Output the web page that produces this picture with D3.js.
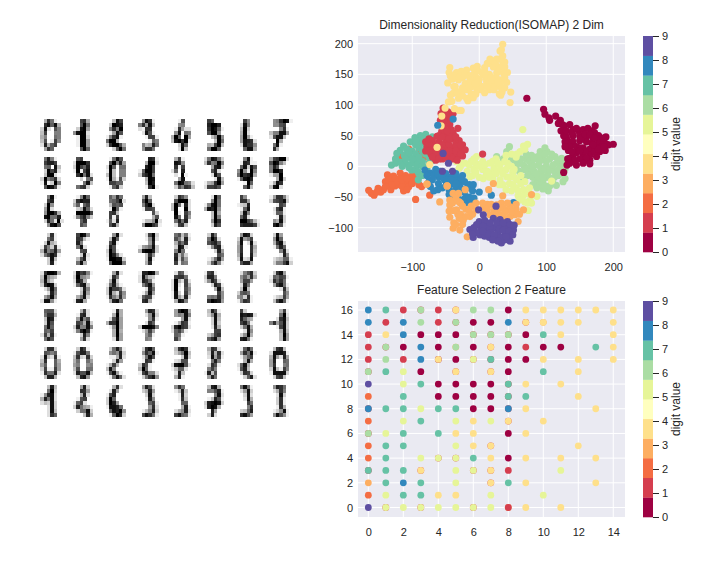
<!DOCTYPE html>
<html>
<head>
<meta charset="utf-8">
<script src="https://cdn.jsdelivr.net/npm/d3@7"></script>
<style>
  body { margin: 0; background: #fff; }
  text { font-family: "Liberation Sans", Arial, sans-serif; fill: #262626; }
</style>
</head>
<body>
<svg id="chart" width="710" height="569"></svg>
<script>
// 64 digit images, 8 rows of 8 values each, values 0..16 written base 17 (g = 16)
var digitImages = [
  "005d9100 00dfaf50 03f20b80 04c00880 05800980 04b01c70 02e5ac00 006da000",
  "000cd500 000bg900 003fg600 07fgg200 001gg300 001gg600 001gg600 000bga00",
  "0004fc00 003gfe00 008d8g00 0016fb00 018df100 09gg5000 03dggb50 0003bg90",
  "007fd100 08d6f400 021dd000 002fb100 0001cc10 00001a80 00845e90 007dd900",
  "0001b000 00078000 001d6220 007f0980 05ga0g60 04fgdg10 0003fa00 0002g400",
  "00ca0000 00egge00 00dgfa10 00bgg700 00047g70 00004g90 0054cg40 009gga00",
  "000c7000 002f8000 004g3000 005g2000 006g6100 006fed20 002fdd70 000aff50",
  "0078dgf1 0077bc00 00008d10 0488ff60 02bff400 000g5000 009f1000 00d50000",
  "009e8100 00ceec00 009a0f40 003gce20 004gg200 03g8ad20 01f13g80 00bgfb10",
  "00bc0000 02gggd00 03gcae00 01g1cf00 00dg9f20 000309b0 00009f40 009cd300",
  "0019fb00 00bg8e60 02ga0990 01g40880 04g40880 01g51b30 00ccaa00 001ad300",
  "0000ed10 0005gg20 000egc00 01aggc00 03ceg900 0005gf00 0004ge00 0001dg10",
  "005c1000 00fe7000 00d1c000 02a0e000 0020g100 0006f000 009gf982 003b8dc4",
  "029fe930 04d89g80 0006ef30 000be200 0002fb00 00002f40 0156dg60 02ccdb00",
  "0008f100 001ed110 00af3fb0 07g71g80 09gdeg50 01afge00 0001ga00 000af400",
  "05cdgg20 0bgf8400 08eb1000 08gge000 0166g000 0005g300 015fd000 04fg2000",
  "0008f100 000ce000 003g7000 006g2000 007ggd50 00fg99e0 003e92g2 0007fgb0",
  "0018fa00 03dfee00 05a0ac00 0035fa20 00ggggc0 018ce830 000ad000 000b9000",
  "00a7d900 009acf20 004bab00 001ga100 00cd4000 00c1c000 01a2e000 00be5000",
  "006e4000 00bga000 008eg200 001ccb00 00000b30 000005b0 001447g2 007ggdb1",
  "003db700 00bggg20 04g91e20 04g00g20 00g10c80 00f90d60 009e9e10 002cd400",
  "0002ga00 0008g900 018fg900 05feg700 0004g500 0004g800 0007gd00 0003eb00",
  "00c70000 00dd6000 0134e000 001af000 004f8000 00ae2000 00ggca41 00deeec2",
  "016dd820 03bcdf30 0001ca00 002ce100 001aa100 0001e300 0075f300 00egb100",
  "0003d100 0009c100 003f5300 01c83d10 05e8ae60 029cfd10 0003f400 0003e100",
  "00cgf800 00dc4100 00e80000 009f2000 000bc000 0003f200 004be100 009f5000",
  "0007f200 004fa000 00bf1000 01eb0000 03gb1000 02ge8200 01ggff30 00aggg80",
  "0002cg30 00017f20 00006e00 01679f30 05fgge30 0004d700 0004f100 0005d000",
  "009b4910 00b83e20 005c9d00 003fe200 008f9000 00d49300 00e3b600 00c19800",
  "003e9000 009gd200 00bdea00 0017de10 00003e60 00000b90 00149e60 003ae810",
  "007fe300 03f68c00 05f02f20 06d00d50 06d00d40 05e00e30 03f23f00 00bee600",
  "003f6000 007ga000 005df300 0019ea00 00008e20 00001e70 00245aa1 00388cf3",
  "02dggf50 04g75400 05f63000 03egf300 0026f900 0002e800 0069f600 02ff7100",
  "02fcd810 03g87500 02fd5000 01aef400 0003e800 0004f600 0059f300 01ef5000",
  "0006e200 001d9000 005f3000 019e5100 03fcca20 03f52c70 01d85d60 005ef900",
  "01eegf50 02f84300 02ed9100 008cf600 0002e900 0016f600 01acc100 00de5000",
  "002ba100 00cdd900 02g52c20 02g20c50 02g10b70 01f30c60 01f63e20 005fe800",
  "01cd1000 03ee8000 027ec200 0003ec10 00005f40 00000c70 00898d70 00dgfe60",
  "0028bd30 007a6d50 006cc600 002e9000 004g4000 03ab9000 0683d100 018dc100",
  "003df600 01a9cb10 02dad900 006df910 00002d40 00000b70 00134c60 004cfa10",
  "00abb200 009dd500 004fe100 003fb000 009fa000 00a9c000 02c5d100 009eb000",
  "0005c200 001de200 006f8b00 00ca5f30 03e88f80 018egd10 0003e800 0006d200",
  "0001e500 0005g500 002bf600 05ddg600 0017g600 0005g500 0005g600 0002f600",
  "0006ed20 00027f30 00007d10 0002da00 03gggf80 0026c600 0007a100 00087000",
  "006egf50 00687f80 00006f20 0015dc10 03egdc20 02ac8100 00a91000 00c70000",
  "004eb100 0037f500 0003f400 0003f300 0002e500 0000cc00 0036cd00 00adf600",
  "00c30000 00fefe20 00ea6500 00ce9100 0039f500 0002f700 0037g500 00ef9100",
  "00005c10 00009g20 0002df40 08d6bf30 0001cf30 00005f40 00004g60 00004f60",
  "003dd300 00ba8a00 02f42d10 04d00a50 06a00a60 03c11c60 01d99e20 004ee500",
  "003ec100 01bee900 04d32d30 05900960 06800780 04b00990 02ebbf40 004ef700",
  "0039e910 00797e30 00115e20 0003e600 015c5000 04f80000 01bf6100 0019fa20",
  "003dfa00 007daf10 0029fb00 001dc100 03db1000 05ga1000 01ce8820 0039df70",
  "004dfd10 00369g40 00003f30 0023bb00 03fggb20 014aa200 002e4000 005e1000",
  "005dc200 003e5d20 002f6c10 0009e800 002db100 008c8000 01e4b000 006e9000",
  "001ae900 006d9f10 0016ac00 0005f500 02af5000 01be4000 003dc300 0003ae20",
  "004de400 02fffe10 05f62e60 06e00a90 06d00890 03f41c80 01ffff30 003cd400",
  "0004e400 0009g300 017ef200 05e9f200 0243f300 0002f300 0002f400 0002da00",
  "0006e300 000dd600 0005e200 001bc000 01ac2000 03e96510 00399f30 00004e50",
  "0005d200 002e6000 01be0000 03ga0000 03ge6000 01ffe900 00afeg70 001age30",
  "006eb200 0035e600 0003f300 0001e700 0000ac10 00006d20 00148e30 00bfd910",
  "007d9000 0014e400 0001e300 0001d400 0000aa00 00005e10 00257e20 00cfa910",
  "004ef500 0088be10 00008f20 0014eb10 03efgf30 02egf500 000e6000 003e2000",
  "009f9100 0026f300 0003f200 0002f500 0000c900 00008d00 0034ae00 00dfb600",
  "007ed900 0025d800 0002f300 0003d100 0003d100 0001d500 00137f10 007fb710"
];

// isomap points per digit class
var iso0 = [[71,111],[96,93],[98,85],[104,79],[105,75],[114,82],[121,75],[118,70],[124,68],[127,66],[135,68],[173,66],[189,48],[126,50],[130,48],[200,36],[193,35],[188,26],[180,24],[175,16],[165,10],[158,10],[145,2],[135,13],[131,2],[126,-10],[133,26],[140,60],[148,58],[155,60],[162,62],[168,58],[172,55],[178,50],[180,44],[170,45],[160,48],[150,50],[140,50],[132,42],[128,40],[140,40],[150,42],[160,40],[168,38],[178,38],[186,40],[190,36],[135,32],[145,32],[155,30],[165,28],[175,30],[183,32],[145,22],[155,20],[165,18],[172,24],[150,12],[140,18],[160,14],[122,58],[130,58],[138,55],[145,62],[152,46],[158,52],[165,52],[172,46],[185,46],[128,32],[138,24],[150,30],[158,25],[170,35],[178,28],[186,32],[150,25],[142,10],[132,12],[135,5],[155,5],[165,4]];
var iso1 = [[-54,95],[-57,86],[-47,89],[-39,86],[-58,75],[-49,78],[-44,68],[-52,65],[-32,62],[-39,54],[-56,57],[-63,49],[-50,50],[-70,42],[-80,40],[-78,32],[-70,30],[-60,40],[-50,40],[-40,45],[-35,38],[-30,42],[-25,35],[-60,30],[-50,30],[-40,30],[-30,28],[-21,27],[-72,20],[-62,18],[-52,20],[-42,18],[-32,17],[-25,17],[-68,25],[-45,55],[-38,22],[-80,25],[-55,12],[-45,10],[-65,10],[-75,38],[-65,35],[-55,35],[-45,35],[-35,32],[-75,25],[-65,22],[-55,25],[-45,25],[-35,25],[-28,20],[-60,50],[-42,60],[-48,58],[-55,48],[-45,45],[-35,48],[-70,15],[-60,12],[-50,15],[-40,12],[-33,10],[-48,72],[-55,70],[-42,80],[-50,85],[-53,75],[-75,45],[-28,35]];
var iso2 = [[-165,-39],[-161,-44],[-157,-47],[-151,-36],[-147,-42],[-143,-38],[-136,-30],[-132,-38],[-128,-25],[-126,-32],[-137,-14],[-120,-30],[-118,-11],[-118,-20],[-110,-15],[-110,-28],[-113,-40],[-103,-25],[-100,-15],[-95,-54],[-95,-10],[-90,-30],[-86,-33],[-74,-47],[-118,16],[-115,8],[-105,28],[-90,22],[-85,15],[-80,15],[-128,-16],[-140,-25],[-135,-22],[-130,-30],[-125,-20],[-122,-26],[-115,-22],[-115,-33],[-108,-20],[-105,-33],[-100,-28],[-95,-22],[-92,-18],[-140,-33],[-153,-42],[-108,-38]];
var iso3 = [[-78,-29],[-48,-32],[-59,-58],[-44,-63],[-44,-55],[-39,-44],[-31,-44],[-21,-38],[-34,-71],[-44,-83],[-39,-101],[-29,-104],[-18,-115],[-24,-88],[-14,-82],[-4,-71],[6,-68],[14,-38],[21,-28],[35,-48],[26,-63],[41,-71],[58,-90],[53,-79],[46,-66],[66,-71],[78,-46],[33,-60],[16,-79],[31,-79],[46,-82],[-28,-60],[-20,-70],[-30,-85],[-38,-92],[-32,-78],[-12,-65],[12,-62],[22,-72],[38,-85],[55,-70],[-10,-78],[-40,-60],[-35,-52],[-30,-58],[-25,-65],[-38,-72],[-28,-78],[-20,-82],[-15,-72],[-5,-60],[5,-60],[12,-70],[18,-62],[28,-70],[35,-68],[42,-60],[48,-74],[38,-75],[25,-80],[55,-62],[60,-78],[-45,-73],[-35,-95],[-25,-95]];
var iso4 = [[-44,161],[-45,153],[-43,147],[-47,136],[-34,153],[-27,155],[-19,157],[-9,160],[-1,155],[8,161],[16,168],[26,162],[31,188],[-31,141],[-21,135],[-11,138],[-1,135],[11,138],[20,135],[31,141],[-36,130],[-29,122],[-17,125],[-4,127],[-39,119],[-43,116],[-31,111],[-19,111],[-9,112],[-46,105],[-41,106],[-17,107],[-37,94],[-30,91],[-27,91],[35,199],[33,190],[35,180],[35,171],[31,162],[38,162],[42,153],[21,162],[26,152],[36,152],[41,137],[33,138],[23,138],[16,141],[31,130],[21,130],[34,121],[32,116],[47,121],[46,104],[-25,145],[-15,148],[-5,145],[5,150],[15,150],[5,130],[15,125],[-8,150],[10,145],[25,145],[-12,130],[0,142],[20,172],[26,175],[-22,125],[-38,148],[-30,145],[-22,148],[-14,140],[-6,135],[-15,128],[2,125],[8,120],[12,130],[18,145],[28,155],[24,130],[38,145],[28,138],[8,155],[-3,163],[12,168],[-25,128],[-33,120],[-25,115],[-12,118],[-5,118],[22,125],[30,118],[38,128],[-38,130],[-40,142],[16,175],[24,168],[30,175],[38,170]];
var iso5 = [[65,60],[72,36],[66,33],[61,24],[56,20],[68,28],[-34,8],[-21,5],[-4,16],[-14,-17],[6,-20],[16,-11],[31,2],[31,-22],[31,-6],[41,-17],[48,0],[56,-22],[66,-38],[76,-55],[73,-72],[86,-49],[-28,0],[-12,8],[-18,-8],[-5,5],[-5,-10],[5,8],[5,-5],[15,5],[22,-3],[10,-15],[20,-20],[25,12],[38,8],[40,-5],[50,-10],[45,-28],[35,-30],[62,-15],[62,-28],[70,-45],[55,-35],[48,-40],[58,-48],[68,-58],[40,18],[108,-24],[-25,5],[-15,2],[-8,-5],[0,0],[8,2],[12,-8],[20,8],[28,5],[35,-12],[42,5],[52,-5],[45,-18],[52,-18],[25,-12],[15,-18],[0,-18],[-10,-15],[30,-30],[40,-38],[50,-30],[58,-40],[65,-48],[72,-60],[60,-55],[78,-60],[55,15],[48,20],[-8,12],[68,-25],[75,-35],[-30,-3]];
var iso6 = [[41,24],[26,16],[91,24],[101,24],[113,16],[123,13],[128,-4],[128,-20],[115,-31],[103,-40],[95,-37],[86,-25],[76,-11],[66,2],[53,10],[98,30],[45,32],[85,15],[95,12],[105,12],[115,5],[122,2],[112,-8],[100,0],[88,2],[78,5],[70,12],[82,-8],[92,-10],[102,-12],[118,-15],[108,-20],[95,-25],[105,-32],[88,-18],[60,5],[48,12],[36,12],[78,18],[75,-2],[55,0],[62,12],[70,20],[60,-8],[68,-5],[75,8],[82,12],[90,18],[98,20],[108,20],[118,10],[125,8],[72,-15],[80,-18],[85,-12],[92,-3],[98,-5],[105,-5],[110,2],[118,-5],[122,-12],[125,-25],[112,-18],[100,-18],[95,-18],[90,-30],[98,-32],[110,-28],[80,-30],[86,-35],[100,8],[90,8],[80,0],[65,-22]];
var iso7 = [[-88,50],[-80,52],[-96,47],[-103,40],[-113,33],[-98,40],[-108,28],[-118,26],[-123,21],[-112,18],[-100,25],[-90,30],[-85,38],[-80,30],[-75,15],[-104,15],[-94,10],[-131,2],[-125,5],[-118,7],[-110,5],[-100,5],[-92,3],[-85,8],[-75,5],[-101,-6],[-95,-5],[-90,-12],[-91,-22],[-80,20],[-70,10],[-88,42],[-75,45],[-95,35],[-105,22],[-95,20],[-85,25],[-75,35],[-70,48],[-90,15],[-100,12],[-110,12],[-85,0],[-78,-2],[-92,-8],[-85,-15],[-125,12],[-115,0],[-105,-2],[-95,42],[-82,45]];
var iso8 = [[-81,-6],[-73,-11],[-65,-5],[-58,-8],[-50,-12],[-40,-17],[-73,-33],[-70,-22],[-61,-28],[-60,-18],[-52,-22],[-49,-30],[-45,-18],[-40,-28],[-33,-20],[-28,-23],[-35,-35],[-28,-35],[-22,-42],[-15,-30],[-9,-30],[-21,-52],[-14,-60],[-25,-55],[-32,-48],[-40,-42],[-45,-38],[0,-42],[18,-47],[51,-59],[-78,-15],[-68,-15],[-62,-12],[-55,-15],[-48,-22],[-42,-22],[-35,-12],[-30,-28],[-22,-25],[-18,-35],[-10,-40],[-35,-28],[-55,-35],[-62,-38],[-68,-40],[-45,-46],[-38,-50],[-30,-55],[-22,-60],[-15,-50],[-8,-52],[-75,-25],[-25,-15]];
var iso9 = [[-14,-103],[-9,-116],[1,-112],[-1,-71],[6,-79],[11,-93],[21,-85],[31,-87],[25,-65],[42,-90],[51,-104],[46,-122],[33,-125],[15,-116],[25,-118],[2,-100],[12,-104],[22,-100],[32,-98],[42,-100],[38,-112],[28,-108],[16,-100],[46,-112],[38,-120],[-4,-108],[8,-114],[32,-116],[0,-90],[8,-88],[16,-92],[26,-92],[36,-92],[46,-95],[52,-96],[-8,-100],[-4,-95],[6,-98],[18,-108],[30,-102],[36,-104],[44,-106],[50,-112],[22,-112],[12,-110],[40,-115],[28,-122],[20,-120],[5,-106],[-10,-110]];
// stragglers drawn over the other clouds: x, y, class
var isoTop = [[-54,21,9],[-46,5,9],[-55,-8,9],[-40,-8,9],[-51,95,4],[-56,82,4],[-57,66,4],[-63,31,4],[-74,3,4],[-39,77,8],[-62,67,8],[5,20,1],[-78,-29,3],[-48,-32,3]];
var isoOrder = [6, 5, 0, 2, 7, 8, 3, 9, 1, 4];

// feature selection rows, y from 16 down to 0; each entry is x then the classes drawn there in order
var featY = [16, 15, 14, 13, 12, 11, 10, 9, 8, 7, 6, 5, 4, 3, 2, 1, 0];
var featRows = [
  [[0,8],[1,7],[2,1],[3,1,6],[4,1],[5,1,4],[6,6],[7,6],[8,0],[9,4],[10,4],[11,4],[12,4],[13,4],[14,4]],
  [[0,8],[1,1],[2,8],[3,6],[4,1],[5,1,6],[6,0],[7,0],[8,8],[9,1,4],[10,3,4],[11,4],[12,4],[14,4]],
  [[0,1],[1,4],[2,8],[3,0],[4,0],[5,0],[6,1,6],[7,1,6],[8,1,6],[9,0],[10,7],[11,4],[14,4]],
  [[0,1],[1,1,6],[2,0],[3,8],[4,0],[5,3,6],[6,0],[7,1,4],[8,0],[9,1],[10,0],[11,0],[13,7],[14,4]],
  [[0,1],[1,6],[2,1],[3,8],[4,0,4],[5,0],[6,1,5],[7,1,7],[8,0],[9,0],[10,4],[12,4],[14,4]],
  [[0,1,6],[1,7],[2,5],[3,0],[5,1,4],[7,1,4],[8,0],[10,7],[12,4]],
  [[0,9],[2,5],[3,7],[4,0],[5,0],[6,0],[7,0],[8,1,7],[9,4],[11,4]],
  [[0,2],[2,7],[4,0],[5,0],[6,0],[7,0],[8,1,7],[9,7],[12,4]],
  [[0,1,8],[1,7],[2,7],[3,5],[4,7],[5,7],[6,0],[7,0],[8,1,8],[9,4],[13,4]],
  [[0,2],[2,5],[3,7],[5,5],[6,4],[7,5],[8,1,4],[10,4]],
  [[0,1,6],[1,5],[2,7],[4,7],[5,4],[6,4],[8,0],[9,4]],
  [[0,2],[1,7],[2,7],[5,5],[6,4],[7,1,4],[12,4]],
  [[0,2],[1,7],[3,5],[4,1,5],[5,1,5],[6,7],[7,4],[8,0],[9,4],[11,4],[13,4]],
  [[0,1,7],[1,7],[2,7],[3,1,4],[5,5],[6,1,5],[7,1,4],[8,1],[11,5]],
  [[0,3],[1,7],[2,8],[3,7],[5,5],[7,1,4],[8,7],[9,4],[13,4]],
  [[0,2],[1,5],[2,7],[3,7],[4,4],[5,4],[7,5],[10,5]],
  [[0,9],[1,1,5],[2,5],[3,1,5],[4,5],[5,5],[6,1,5],[7,5],[8,3,1],[9,4],[11,4]]
];

var isoXTicks = [-100, 0, 100, 200];
var isoYTicks = [-100, -50, 0, 50, 100, 150, 200];
var featXTicks = [0, 2, 4, 6, 8, 10, 12, 14];
var featYTicks = [0, 2, 4, 6, 8, 10, 12, 14, 16];
var barTicks = [0, 1, 2, 3, 4, 5, 6, 7, 8, 9];

var palette = d3.schemeSpectral[11];
var classColor = d3.scaleQuantize().domain([0, 9]).range(palette);
var svg = d3.select('#chart');
var minus = function(d) { return String(d).replace('-', '\u2212'); };

function drawDigits() {
  var gridX = d3.scaleLinear().domain([0, 8]).range([37, 298.6]);
  var gridY = d3.scaleLinear().domain([0, 8]).range([119.3, 423.3]);
  var gray = d3.scaleLinear().domain([0, 16]).range(['#ffffff', '#000000']);
  var cw = 26.7 / 8, ch = 31.3 / 8;
  var cells = [];
  digitImages.forEach(function(s, i) {
    s.split(' ').forEach(function(row, r) {
      row.split('').forEach(function(c, k) {
        var v = parseInt(c, 17);
        if (v > 0) cells.push({img: i, r: r, k: k, v: v});
      });
    });
  });
  svg.append('g').attr('shape-rendering', 'crispEdges')
    .selectAll('rect').data(cells).enter().append('rect')
    .attr('x', function(d) { return gridX(d.img % 8) + d.k * cw; })
    .attr('y', function(d) { return gridY(Math.floor(d.img / 8)) + d.r * ch; })
    .attr('width', cw + 0.2)
    .attr('height', ch + 0.2)
    .attr('fill', function(d) { return gray(d.v); });
}

function panel(top, x, y, xTicks, yTicks, title) {
  var g = svg.append('g');
  var bottom = y.range()[0], left = x.range()[0], right = x.range()[1];
  g.append('rect').attr('x', left).attr('y', top)
    .attr('width', right - left).attr('height', bottom - top).attr('fill', '#eaeaf2');
  g.selectAll('.vg').data(xTicks).enter().append('line')
    .attr('x1', x).attr('x2', x).attr('y1', top).attr('y2', bottom)
    .attr('stroke', '#fff').attr('stroke-width', 1);
  g.selectAll('.hg').data(yTicks).enter().append('line')
    .attr('x1', left).attr('x2', right).attr('y1', y).attr('y2', y)
    .attr('stroke', '#fff').attr('stroke-width', 1);
  var xa = g.append('g').attr('transform', 'translate(0,' + bottom + ')')
    .call(d3.axisBottom(x).tickValues(xTicks).tickSize(0).tickPadding(11).tickFormat(minus));
  var ya = g.append('g').attr('transform', 'translate(' + left + ',0)')
    .call(d3.axisLeft(y).tickValues(yTicks).tickSize(0).tickPadding(5).tickFormat(minus));
  [xa, ya].forEach(function(a) {
    a.select('.domain').remove();
    a.selectAll('text').style('font-size', '11px').style('font-family', null);
  });
  g.append('text').attr('x', (left + right) / 2).attr('y', top - 7)
    .attr('text-anchor', 'middle').style('font-size', '12px').text(title);
  return g;
}

function colorbar(top, bottom) {
  var left = 643, w = 10;
  var bands = d3.scaleBand().domain(d3.range(palette.length)).range([bottom, top]);
  var g = svg.append('g');
  g.selectAll('rect').data(palette).enter().append('rect')
    .attr('x', left).attr('width', w)
    .attr('y', function(d, i) { return bands(i); })
    .attr('height', bands.bandwidth() + 0.3)
    .attr('fill', function(d) { return d; });
  var scale = d3.scaleLinear().domain([0, 9]).range([bottom, top]);
  var ax = g.append('g').attr('transform', 'translate(' + (left + w) + ',0)')
    .call(d3.axisRight(scale).tickValues(barTicks).tickSize(6).tickPadding(3));
  ax.select('.domain').remove();
  ax.selectAll('line').attr('stroke', '#262626');
  ax.selectAll('text').style('font-size', '11px').style('font-family', null);
  g.append('text').attr('transform', 'translate(680,' + (top + bottom) / 2 + ') rotate(-90)')
    .attr('text-anchor', 'middle').style('font-size', '12px').text('digit value');
}

// top panel
var isoX = d3.scaleLinear().domain([-181, 217.5]).range([358, 625]);
var isoY = d3.scaleLinear().domain([-139.7, 212.5]).range([252, 36]);
var topPanel = panel(36, isoX, isoY, isoXTicks, isoYTicks, 'Dimensionality Reduction(ISOMAP) 2 Dim');
var isoByClass = [iso0, iso1, iso2, iso3, iso4, iso5, iso6, iso7, iso8, iso9];
var isoPoints = [];
isoOrder.forEach(function(c) {
  isoByClass[c].forEach(function(p) { isoPoints.push([p[0], p[1], c]); });
});
isoPoints = isoPoints.concat(isoTop);
topPanel.append('g').selectAll('circle').data(isoPoints).enter().append('circle')
  .attr('cx', function(d) { return isoX(d[0]); })
  .attr('cy', function(d) { return isoY(d[1]); })
  .attr('r', 3.6)
  .attr('fill', function(d) { return classColor(d[2]); });
colorbar(36, 252);

// bottom panel
var featXScale = d3.scaleLinear().domain([-0.59, 14.67]).range([358, 625]);
var featYScale = d3.scaleLinear().domain([-0.77, 16.73]).range([517, 301]);
var botPanel = panel(301, featXScale, featYScale, featXTicks, featYTicks, 'Feature Selection 2 Feature');
var featPoints = [];
featRows.forEach(function(row, i) {
  row.forEach(function(p) {
    p.slice(1).forEach(function(c) { featPoints.push([p[0], featY[i], c]); });
  });
});
botPanel.append('g').selectAll('circle').data(featPoints).enter().append('circle')
  .attr('cx', function(d) { return featXScale(d[0]); })
  .attr('cy', function(d) { return featYScale(d[1]); })
  .attr('r', 3.4)
  .attr('fill', function(d) { return classColor(d[2]); });
colorbar(301, 517);

drawDigits();
</script>
</body>
</html>
